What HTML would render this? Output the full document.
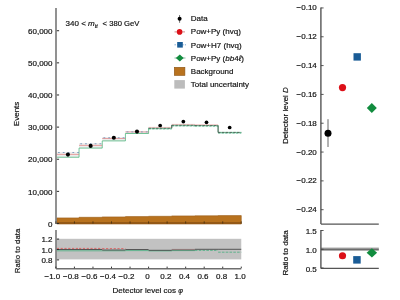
<!DOCTYPE html>
<html><head><meta charset="utf-8"><style>
html,body{margin:0;padding:0;background:#fff;width:400px;height:300px;overflow:hidden}
svg{display:block;will-change:transform}
text{font-family:"Liberation Sans",sans-serif;fill:#111111;stroke:#111111;stroke-width:0.18px}
</style></head><body>
<svg width="400" height="300" viewBox="0 0 400 300">
<rect x="0" y="0" width="400" height="300" fill="#ffffff"/>
<rect x="56.80" y="151.90" width="22.26" height="5.35" fill="#ececec"/>
<rect x="79.06" y="143.15" width="23.17" height="4.95" fill="#ececec"/>
<rect x="102.24" y="137.15" width="23.17" height="3.75" fill="#ececec"/>
<rect x="125.41" y="131.30" width="23.17" height="2.20" fill="#ececec"/>
<rect x="148.58" y="128.20" width="23.17" height="1.6" fill="#dff2ea"/>
<rect x="171.75" y="125.20" width="23.17" height="1.6" fill="#dff2ea"/>
<rect x="194.93" y="125.50" width="23.17" height="1.6" fill="#dff2ea"/>
<rect x="218.10" y="132.40" width="23.17" height="1.6" fill="#dff2ea"/>
<path d="M56.80,157.25 L79.06,157.25 L79.06,148.10 L102.24,148.10 L102.24,140.90 L125.41,140.90 L125.41,133.50 L148.58,133.50 L148.58,128.20 L171.75,128.20 L171.75,125.20 L194.93,125.20 L194.93,125.50 L218.10,125.50 L218.10,132.40 L241.27,132.40" fill="none" stroke="#3aae6e" stroke-width="0.7"/>
<line x1="56.80" y1="154.40" x2="79.06" y2="154.40" stroke="#e48080" stroke-width="0.7"/>
<line x1="56.80" y1="152.50" x2="79.06" y2="152.50" stroke="#7898bc" stroke-width="0.9" stroke-dasharray="1.8,3.0" stroke-dashoffset="-1.2"/>
<line x1="79.06" y1="145.40" x2="102.24" y2="145.40" stroke="#e48080" stroke-width="0.7"/>
<line x1="79.06" y1="143.75" x2="102.24" y2="143.75" stroke="#7898bc" stroke-width="0.9" stroke-dasharray="1.8,3.0" stroke-dashoffset="-1.2"/>
<line x1="102.24" y1="138.50" x2="125.41" y2="138.50" stroke="#e48080" stroke-width="0.7"/>
<line x1="102.24" y1="137.75" x2="125.41" y2="137.75" stroke="#7898bc" stroke-width="0.9" stroke-dasharray="1.8,3.0" stroke-dashoffset="-1.2"/>
<line x1="125.41" y1="131.90" x2="148.58" y2="131.90" stroke="#e48080" stroke-width="0.7"/>
<line x1="125.41" y1="131.90" x2="148.58" y2="131.90" stroke="#7898bc" stroke-width="0.9" stroke-dasharray="1.8,3.0" stroke-dashoffset="-1.2"/>
<line x1="148.58" y1="128.90" x2="171.75" y2="128.90" stroke="#40a878" stroke-width="0.7" stroke-dasharray="2.2,1.4" stroke-dashoffset="0"/>
<line x1="148.58" y1="128.20" x2="171.75" y2="128.20" stroke="#4a4a4a" stroke-width="0.75" stroke-dasharray="2.4,1.4" stroke-dashoffset="0"/>
<line x1="148.58" y1="127.40" x2="171.75" y2="127.40" stroke="#e9a0a0" stroke-width="0.6"/>
<line x1="171.75" y1="125.90" x2="194.93" y2="125.90" stroke="#40a878" stroke-width="0.7" stroke-dasharray="2.2,1.4" stroke-dashoffset="0"/>
<line x1="171.75" y1="125.20" x2="194.93" y2="125.20" stroke="#4a4a4a" stroke-width="0.75" stroke-dasharray="2.4,1.4" stroke-dashoffset="0"/>
<line x1="171.75" y1="124.40" x2="194.93" y2="124.40" stroke="#e9a0a0" stroke-width="0.6"/>
<line x1="194.93" y1="126.20" x2="218.10" y2="126.20" stroke="#40a878" stroke-width="0.7" stroke-dasharray="2.2,1.4" stroke-dashoffset="0"/>
<line x1="194.93" y1="125.50" x2="218.10" y2="125.50" stroke="#4a4a4a" stroke-width="0.75" stroke-dasharray="2.4,1.4" stroke-dashoffset="0"/>
<line x1="194.93" y1="124.70" x2="218.10" y2="124.70" stroke="#e9a0a0" stroke-width="0.6"/>
<line x1="218.10" y1="133.10" x2="241.27" y2="133.10" stroke="#40a878" stroke-width="0.7" stroke-dasharray="2.2,1.4" stroke-dashoffset="0"/>
<line x1="218.10" y1="132.40" x2="241.27" y2="132.40" stroke="#4a4a4a" stroke-width="0.75" stroke-dasharray="2.4,1.4" stroke-dashoffset="0"/>
<path d=" M171.75,128.20 L171.75,125.20 M194.93,125.20 L194.93,125.50 M218.10,125.50 L218.10,132.40" stroke="#333" stroke-width="0.7"/>
<circle cx="67.93" cy="154.60" r="2.05" fill="#000"/>
<circle cx="90.65" cy="145.90" r="2.05" fill="#000"/>
<circle cx="113.82" cy="137.75" r="2.05" fill="#000"/>
<circle cx="136.99" cy="131.60" r="2.05" fill="#000"/>
<circle cx="160.17" cy="125.50" r="1.85" fill="#000"/>
<circle cx="183.34" cy="121.60" r="1.85" fill="#000"/>
<circle cx="206.51" cy="122.30" r="1.85" fill="#000"/>
<circle cx="229.68" cy="127.50" r="1.85" fill="#000"/>
<path d="M56.80,224 L56.80,217.90 L79.06,217.90 L79.06,217.30 L102.24,217.30 L102.24,216.90 L125.41,216.90 L125.41,216.60 L148.58,216.60 L148.58,216.30 L171.75,216.30 L171.75,215.90 L194.93,215.90 L194.93,215.80 L218.10,215.80 L218.10,215.60 L241.27,215.60 L241.27,224 Z" fill="#b8721e" stroke="#9a5c18" stroke-width="0.6"/>
<line x1="56.8" y1="223.0" x2="241.27" y2="223.0" stroke="#8a5214" stroke-width="1.3"/>
<line x1="56.0" y1="8" x2="56.0" y2="224" stroke="#767676" stroke-width="1.6"/>
<line x1="56.8" y1="223.50" x2="59.1" y2="223.50" stroke="#2a2a2a" stroke-width="1.0"/>
<text x="52.50" y="226.64" font-size="8.0" text-anchor="end" >0</text>
<line x1="56.8" y1="191.37" x2="59.1" y2="191.37" stroke="#2a2a2a" stroke-width="1.0"/>
<text x="52.50" y="194.51" font-size="8.0" text-anchor="end" >10,000</text>
<line x1="56.8" y1="159.24" x2="59.1" y2="159.24" stroke="#2a2a2a" stroke-width="1.0"/>
<text x="52.50" y="162.38" font-size="8.0" text-anchor="end" >20,000</text>
<line x1="56.8" y1="127.11" x2="59.1" y2="127.11" stroke="#2a2a2a" stroke-width="1.0"/>
<text x="52.50" y="130.25" font-size="8.0" text-anchor="end" >30,000</text>
<line x1="56.8" y1="94.98" x2="59.1" y2="94.98" stroke="#2a2a2a" stroke-width="1.0"/>
<text x="52.50" y="98.12" font-size="8.0" text-anchor="end" >40,000</text>
<line x1="56.8" y1="62.85" x2="59.1" y2="62.85" stroke="#2a2a2a" stroke-width="1.0"/>
<text x="52.50" y="65.99" font-size="8.0" text-anchor="end" >50,000</text>
<line x1="56.8" y1="30.72" x2="59.1" y2="30.72" stroke="#2a2a2a" stroke-width="1.0"/>
<text x="52.50" y="33.86" font-size="8.0" text-anchor="end" >60,000</text>
<line x1="55.89" y1="223.6" x2="55.89" y2="221.3" stroke="#3a2a10" stroke-width="0.7"/>
<line x1="74.43" y1="223.6" x2="74.43" y2="221.3" stroke="#3a2a10" stroke-width="0.7"/>
<line x1="92.97" y1="223.6" x2="92.97" y2="221.3" stroke="#3a2a10" stroke-width="0.7"/>
<line x1="111.50" y1="223.6" x2="111.50" y2="221.3" stroke="#3a2a10" stroke-width="0.7"/>
<line x1="130.04" y1="223.6" x2="130.04" y2="221.3" stroke="#3a2a10" stroke-width="0.7"/>
<line x1="148.58" y1="223.6" x2="148.58" y2="221.3" stroke="#3a2a10" stroke-width="0.7"/>
<line x1="167.12" y1="223.6" x2="167.12" y2="221.3" stroke="#3a2a10" stroke-width="0.7"/>
<line x1="185.66" y1="223.6" x2="185.66" y2="221.3" stroke="#3a2a10" stroke-width="0.7"/>
<line x1="204.19" y1="223.6" x2="204.19" y2="221.3" stroke="#3a2a10" stroke-width="0.7"/>
<line x1="222.73" y1="223.6" x2="222.73" y2="221.3" stroke="#3a2a10" stroke-width="0.7"/>
<line x1="241.27" y1="223.6" x2="241.27" y2="221.3" stroke="#3a2a10" stroke-width="0.7"/>
<text x="0" y="0" font-size="8.0" text-anchor="middle" transform="translate(19.3,113.9) rotate(-90)">Events</text>
<text x="65.6" y="25.8" font-size="8">340 &lt;</text>
<text x="88" y="25.8" font-size="8" font-style="italic">m</text>
<text x="94.8" y="27.900000000000002" font-size="5.2" font-style="italic">tt</text>
<text x="102.6" y="25.8" font-size="7.65">&lt; 380 GeV</text>
<line x1="179.6" y1="15" x2="179.6" y2="22.8" stroke="#333" stroke-width="0.7"/>
<circle cx="179.6" cy="18.7" r="2.0" fill="#000"/>
<line x1="174.5" y1="31.9" x2="185" y2="31.9" stroke="#c86a6a" stroke-width="0.8"/>
<circle cx="179.6" cy="31.9" r="2.8" fill="#dc1018"/>
<line x1="174.5" y1="44.8" x2="186" y2="44.8" stroke="#5a94c8" stroke-width="0.8" stroke-dasharray="1.4,1.2"/>
<rect x="177.2" y="42" width="5.6" height="5.6" fill="#1a5c96"/>
<line x1="174.5" y1="58" x2="185.5" y2="58" stroke="#5a9a78" stroke-width="0.7"/>
<path d="M175.9,58 L179.8,54.5 L183.7,58 L179.8,61.5 Z" fill="#118c3e"/>
<rect x="174.3" y="67.3" width="10.6" height="8.1" fill="#b8721e" stroke="#8a5414" stroke-width="0.6"/>
<rect x="174.3" y="80.1" width="10.6" height="8.5" fill="#bcbcbc"/>
<text x="190.80" y="20.94" font-size="8.0" text-anchor="start" >Data</text>
<text x="190.80" y="34.24" font-size="8.0" text-anchor="start" >Pow+Py (hvq)</text>
<text x="190.80" y="47.64" font-size="8.0" text-anchor="start" >Pow+H7 (hvq)</text>
<text x="190.80" y="60.84" font-size="8.0" text-anchor="start" >Pow+Py (<tspan font-style="italic">bb</tspan>4<tspan font-style="italic">ℓ</tspan>)</text>
<text x="190.80" y="74.34" font-size="8.0" text-anchor="start" >Background</text>
<text x="190.80" y="87.24" font-size="8.0" text-anchor="start" >Total uncertainty</text>
<rect x="56.3" y="238.8" width="184.97" height="20.6" fill="#c2c2c2"/>
<line x1="56.80" y1="250.80" x2="79.06" y2="250.80" stroke="#48b080" stroke-width="0.8"/>
<line x1="79.06" y1="250.80" x2="102.24" y2="250.80" stroke="#48b080" stroke-width="0.8"/>
<line x1="102.24" y1="250.80" x2="125.41" y2="250.80" stroke="#48b080" stroke-width="0.8"/>
<line x1="125.41" y1="250.60" x2="148.58" y2="250.60" stroke="#48b080" stroke-width="0.8"/>
<line x1="148.58" y1="250.90" x2="171.75" y2="250.90" stroke="#48b080" stroke-width="0.8"/>
<line x1="171.75" y1="250.60" x2="194.93" y2="250.60" stroke="#48b080" stroke-width="0.8"/>
<line x1="194.93" y1="250.40" x2="218.10" y2="250.40" stroke="#48b080" stroke-width="0.8" stroke-dasharray="2.6,1.2" stroke-dashoffset="0"/>
<line x1="218.10" y1="252.20" x2="241.27" y2="252.20" stroke="#48b080" stroke-width="0.8" stroke-dasharray="2.6,1.2" stroke-dashoffset="0"/>
<line x1="56.80" y1="249.50" x2="79.06" y2="249.50" stroke="#3a3a3a" stroke-width="0.8"/>
<line x1="79.06" y1="249.50" x2="102.24" y2="249.50" stroke="#3a3a3a" stroke-width="0.8"/>
<line x1="102.24" y1="250.00" x2="125.41" y2="250.00" stroke="#3a3a3a" stroke-width="0.8"/>
<line x1="125.41" y1="249.50" x2="148.58" y2="249.50" stroke="#3a3a3a" stroke-width="0.8"/>
<line x1="148.58" y1="250.30" x2="171.75" y2="250.30" stroke="#3a3a3a" stroke-width="0.8"/>
<line x1="171.75" y1="249.80" x2="194.93" y2="249.80" stroke="#3a3a3a" stroke-width="0.8"/>
<line x1="194.93" y1="249.30" x2="218.10" y2="249.30" stroke="#3a3a3a" stroke-width="0.8"/>
<line x1="218.10" y1="249.30" x2="241.27" y2="249.30" stroke="#3a3a3a" stroke-width="0.8"/>
<line x1="56.80" y1="248.40" x2="79.06" y2="248.40" stroke="#e05050" stroke-width="0.8" stroke-dasharray="2.2,1.6" stroke-dashoffset="0"/>
<line x1="79.06" y1="248.40" x2="102.24" y2="248.40" stroke="#e05050" stroke-width="0.8" stroke-dasharray="2.2,1.6" stroke-dashoffset="0"/>
<line x1="102.24" y1="248.60" x2="125.41" y2="248.60" stroke="#e05050" stroke-width="0.8" stroke-dasharray="2.2,1.6" stroke-dashoffset="0"/>
<line x1="171.75" y1="249.40" x2="194.93" y2="249.40" stroke="#a08080" stroke-width="0.7"/>
<line x1="56.0" y1="230" x2="56.0" y2="268.7" stroke="#767676" stroke-width="1.6"/>
<line x1="56.0" y1="268.7" x2="241.27" y2="268.7" stroke="#6e6e6e" stroke-width="1.4"/>
<line x1="56.8" y1="239.10" x2="59.1" y2="239.10" stroke="#2a2a2a" stroke-width="1.0"/>
<text x="52.50" y="242.34" font-size="8.0" text-anchor="end" >1.2</text>
<line x1="56.8" y1="249.50" x2="59.1" y2="249.50" stroke="#2a2a2a" stroke-width="1.0"/>
<text x="52.50" y="252.74" font-size="8.0" text-anchor="end" >1.0</text>
<line x1="56.8" y1="259.90" x2="59.1" y2="259.90" stroke="#2a2a2a" stroke-width="1.0"/>
<text x="52.50" y="263.14" font-size="8.0" text-anchor="end" >0.8</text>
<line x1="55.89" y1="268.2" x2="55.89" y2="266.6" stroke="#222" stroke-width="0.9"/>
<text x="60.25" y="278.64" font-size="8.0" text-anchor="end" >−1.0</text>
<line x1="74.43" y1="268.2" x2="74.43" y2="266.6" stroke="#222" stroke-width="0.9"/>
<text x="78.79" y="278.64" font-size="8.0" text-anchor="end" >−0.8</text>
<line x1="92.97" y1="268.2" x2="92.97" y2="266.6" stroke="#222" stroke-width="0.9"/>
<text x="97.33" y="278.64" font-size="8.0" text-anchor="end" >−0.6</text>
<line x1="111.50" y1="268.2" x2="111.50" y2="266.6" stroke="#222" stroke-width="0.9"/>
<text x="115.86" y="278.64" font-size="8.0" text-anchor="end" >−0.4</text>
<line x1="130.04" y1="268.2" x2="130.04" y2="266.6" stroke="#222" stroke-width="0.9"/>
<text x="134.40" y="278.64" font-size="8.0" text-anchor="end" >−0.2</text>
<line x1="148.58" y1="268.2" x2="148.58" y2="266.6" stroke="#222" stroke-width="0.9"/>
<text x="149.60" y="278.64" font-size="8.0" text-anchor="end" >0</text>
<line x1="167.12" y1="268.2" x2="167.12" y2="266.6" stroke="#222" stroke-width="0.9"/>
<text x="171.48" y="278.64" font-size="8.0" text-anchor="end" >0.2</text>
<line x1="185.66" y1="268.2" x2="185.66" y2="266.6" stroke="#222" stroke-width="0.9"/>
<text x="190.02" y="278.64" font-size="8.0" text-anchor="end" >0.4</text>
<line x1="204.19" y1="268.2" x2="204.19" y2="266.6" stroke="#222" stroke-width="0.9"/>
<text x="208.55" y="278.64" font-size="8.0" text-anchor="end" >0.6</text>
<line x1="222.73" y1="268.2" x2="222.73" y2="266.6" stroke="#222" stroke-width="0.9"/>
<text x="227.09" y="278.64" font-size="8.0" text-anchor="end" >0.8</text>
<line x1="241.27" y1="268.2" x2="241.27" y2="266.6" stroke="#222" stroke-width="0.9"/>
<text x="245.63" y="278.64" font-size="8.0" text-anchor="end" >1.0</text>
<text x="0" y="0" font-size="7.85" text-anchor="middle" transform="translate(20.4,250.9) rotate(-90)">Ratio to data</text>
<text x="147.75" y="292.94" font-size="8.0" text-anchor="middle">Detector level cos <tspan font-style="italic" font-size="7.2">φ</tspan></text>
<line x1="320.9" y1="7.4" x2="320.9" y2="224.1" stroke="#555555" stroke-width="1.4"/>
<line x1="320.9" y1="224.1" x2="378.8" y2="224.1" stroke="#555555" stroke-width="1.4"/>
<line x1="320.9" y1="7.95" x2="323.59999999999997" y2="7.95" stroke="#444" stroke-width="0.9"/>
<text x="316.80" y="10.49" font-size="8.0" text-anchor="end" >−0.10</text>
<line x1="320.9" y1="36.77" x2="323.59999999999997" y2="36.77" stroke="#444" stroke-width="0.9"/>
<text x="316.80" y="39.31" font-size="8.0" text-anchor="end" >−0.12</text>
<line x1="320.9" y1="65.59" x2="323.59999999999997" y2="65.59" stroke="#444" stroke-width="0.9"/>
<text x="316.80" y="68.13" font-size="8.0" text-anchor="end" >−0.14</text>
<line x1="320.9" y1="94.41" x2="323.59999999999997" y2="94.41" stroke="#444" stroke-width="0.9"/>
<text x="316.80" y="96.95" font-size="8.0" text-anchor="end" >−0.16</text>
<line x1="320.9" y1="123.23" x2="323.59999999999997" y2="123.23" stroke="#444" stroke-width="0.9"/>
<text x="316.80" y="125.77" font-size="8.0" text-anchor="end" >−0.18</text>
<line x1="320.9" y1="152.05" x2="323.59999999999997" y2="152.05" stroke="#444" stroke-width="0.9"/>
<text x="316.80" y="154.59" font-size="8.0" text-anchor="end" >−0.20</text>
<line x1="320.9" y1="180.88" x2="323.59999999999997" y2="180.88" stroke="#444" stroke-width="0.9"/>
<text x="316.80" y="183.42" font-size="8.0" text-anchor="end" >−0.22</text>
<line x1="320.9" y1="209.70" x2="323.59999999999997" y2="209.70" stroke="#444" stroke-width="0.9"/>
<text x="316.80" y="212.24" font-size="8.0" text-anchor="end" >−0.24</text>
<text x="0" y="0" font-size="8.0" text-anchor="middle" transform="translate(288,115.6) rotate(-90)">Detector level <tspan font-style="italic">D</tspan></text>
<line x1="328" y1="119.2" x2="328" y2="147" stroke="#666" stroke-width="1"/>
<circle cx="328" cy="133.3" r="3.5" fill="#000"/>
<circle cx="342.5" cy="87.6" r="3.6" fill="#dc1018"/>
<rect x="353.5" y="53.2" width="7.4" height="7.4" fill="#1a5c96"/>
<path d="M366.8,108 L371.8,103.1 L376.8,108 L371.8,112.9 Z" fill="#118c3e"/>
<line x1="320.9" y1="249.25" x2="378.8" y2="249.25" stroke="#b0b0b0" stroke-width="3.4"/>
<line x1="320.9" y1="249.25" x2="378.8" y2="249.25" stroke="#555" stroke-width="1"/>
<line x1="320.9" y1="230.1" x2="320.9" y2="268.4" stroke="#555555" stroke-width="1.4"/>
<line x1="320.9" y1="268.4" x2="378.8" y2="268.4" stroke="#555555" stroke-width="1.4"/>
<line x1="320.9" y1="230.50" x2="323.59999999999997" y2="230.50" stroke="#444" stroke-width="0.9"/>
<text x="316.80" y="234.04" font-size="8.0" text-anchor="end" >1.5</text>
<line x1="320.9" y1="249.25" x2="323.59999999999997" y2="249.25" stroke="#444" stroke-width="0.9"/>
<text x="316.80" y="252.79" font-size="8.0" text-anchor="end" >1.0</text>
<line x1="320.9" y1="268.00" x2="323.59999999999997" y2="268.00" stroke="#444" stroke-width="0.9"/>
<text x="316.80" y="271.54" font-size="8.0" text-anchor="end" >0.5</text>
<text x="0" y="0" font-size="8.0" text-anchor="middle" transform="translate(288.3,252.9) rotate(-90)">Ratio to data</text>
<circle cx="342.5" cy="255.75" r="3.6" fill="#dc1018"/>
<rect x="353.2" y="256.1" width="7.5" height="7.5" fill="#1a5c96"/>
<path d="M366.6,252.8 L371.9,248.3 L377.1,252.8 L371.9,257.4 Z" fill="#118c3e"/>
</svg>
</body></html>
